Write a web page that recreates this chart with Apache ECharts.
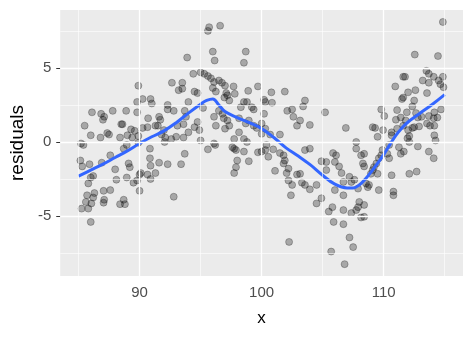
<!DOCTYPE html>
<html>
<head>
<meta charset="utf-8">
<script src="https://cdn.jsdelivr.net/npm/echarts@6/dist/echarts.min.js"></script>
<style>html,body{margin:0;padding:0;background:#fff}#c{width:474px;height:338px}</style>
</head>
<body>
<div id="c"></div>
<script>
// x and residual values of the scattered points
const pointX = [
93.9,94.4,89.9,92.65,93.5,93.2,93.5,94.5,90.25,89.8,90.9,91.0,94.0,86.1,86.85,87.8,88.9,89.8,87.1,87.0,
92.3,92.3,92.8,90.7,91.6,91.7,91.5,93.7,93.8,93.6,93.1,94.5,85.5,86.0,86.8,87.35,87.5,88.6,88.5,88.4,
89.3,89.0,89.6,89.4,90.25,90.65,89.9,91.3,92.0,91.8,92.1,92.6,93.0,93.6,85.2,85.4,92.05,94.0,
85.15,85.3,85.9,86.2,86.0,85.8,85.7,86.3,86.2,85.6,86.05,85.8,85.25,86.0,86.9,87.6,88.0,88.1,87.6,87.05,
87.1,87.05,88.4,88.7,88.8,88.7,88.95,89.1,89.2,88.95,89.5,89.8,90.1,90.0,90.0,90.85,90.85,90.9,91.6,92.3,
93.4,93.7,90.65,90.9,91.3,92.8,89.9,
95.7,95.6,96.6,96.0,96.15,98.7,98.55,95.0,95.3,95.6,95.85,96.1,96.0,96.5,96.75,97.0,96.25,94.75,97.1,96.95,
97.2,97.7,97.8,97.35,98.9,99.7,100.8,101.9,98.55,98.8,98.3,99.2,99.35,100.2,100.3,100.85,100.2,103.55,103.4,102.5,
102.1,102.6,103.15,103.95,102.9,105.2,95.2,96.5,96.8,96.1,96.9,97.2,96.25,97.0,97.35,94.75,94.9,95.0,96.1,98.15,
98.15,97.75,98.55,98.8,98.95,98.7,99.35,99.6,100.0,100.3,100.0,100.7,101.5,
95.6,96.2,97.6,97.9,97.75,98.55,98.0,97.9,97.75,98.95,99.7,100.0,100.4,100.3,100.55,100.95,101.5,101.8,101.9,101.8,
101.1,102.05,102.2,102.2,102.5,102.4,102.9,103.15,103.3,103.55,103.95,104.5,104.9,104.5,103.55,103.95,104.9,105.3,105.3,105.5,
102.25,
105.85,106.1,106.0,106.35,106.55,106.7,106.0,106.7,107.2,107.35,107.6,107.9,107.75,108.15,108.4,108.3,108.4,108.55,108.7,108.8,
108.95,109.1,109.2,109.4,109.5,109.6,109.8,109.9,110.3,110.45,110.45,111.25,111.4,111.65,112.1,112.8,113.7,114.1,114.25,110.65,
112.1,112.7,109.6,110.8,110.8,105.8,106.7,105.9,106.7,107.35,107.75,107.9,108.0,108.4,108.15,108.4,107.2,107.5,105.7,106.8,
114.85,112.55,114.45,113.5,113.7,114.1,114.5,114.85,114.65,114.9,111.6,111.75,110.95,112.0,112.6,113.2,113.7,113.55,111.5,111.6,
112.5,112.35,109.8,110.05,111.1,111.9,112.65,113.1,113.7,114.15,114.1,114.4,114.7,111.0,111.4,111.8,112.8,113.55,113.8,114.15,
112.35,112.9,106.9,109.1,109.3,109.5,109.95,110.65,111.1,111.6,112.0,112.5,112.1,111.95,114.15,107.75,110.65
];
const pointY = [
5.7,4.6,3.8,4.0,4.0,3.5,3.6,3.4,2.9,2.7,2.9,2.6,2.7,2.0,1.9,2.1,2.1,2.0,1.7,1.5,
2.5,2.2,2.1,1.6,1.7,1.5,1.1,2.1,1.7,1.2,1.1,1.0,1.1,0.45,0.3,0.6,0.5,1.2,1.2,0.3,
0.85,0.45,0.75,0.3,0.95,1.0,0.4,1.1,0.8,0.5,0.3,0.2,0.35,0.3,-0.1,-0.2,0.0,0.65,
-1.25,-1.65,-1.5,-2.3,-2.4,-2.8,-3.6,-3.45,-3.75,-4.05,-4.15,-4.5,-4.5,-5.4,-1.4,-0.9,-1.85,-2.55,-3.25,-3.3,
-3.9,-4.1,-4.2,-3.9,-4.2,-0.45,-0.2,-1.45,-1.7,-2.4,-2.75,-2.6,-2.1,-2.2,-3.3,-0.45,-1.1,-1.6,-1.4,-1.5,
-1.5,-0.8,-2.2,-2.5,-2.1,-3.7,-0.05,
7.75,7.5,7.85,6.1,5.5,6.1,5.35,4.7,4.6,4.45,4.3,4.05,3.65,4.15,4.0,3.8,3.4,3.3,3.3,3.0,
3.15,3.75,3.25,2.8,3.45,3.75,3.35,3.4,2.7,2.7,2.35,2.35,2.2,2.85,2.7,2.65,1.9,2.8,2.4,2.2,
2.1,1.7,1.45,1.15,1.1,2.0,2.3,2.1,1.9,1.7,1.6,1.45,1.1,0.9,1.1,1.35,0.8,0.1,-0.1,1.6,
0.65,0.2,0.2,0.0,1.45,1.25,1.1,0.95,1.25,0.9,0.55,0.5,0.5,
-0.5,-0.2,-0.35,-0.55,-0.45,-0.65,-1.25,-1.7,-2.1,-1.3,-0.7,-0.65,-0.2,-0.55,-1.0,-0.5,-0.75,-0.9,-1.25,-1.45,
-1.95,-2.1,-1.8,-2.6,-2.9,-3.6,-2.2,-2.15,-2.75,-2.9,-3.2,-2.9,-3.8,-4.15,-0.55,-0.45,-1.3,-1.35,-1.9,-4.7,
-6.75,
-0.75,-0.9,-1.35,-1.65,-2.1,-2.7,-3.25,-3.6,-2.35,-2.7,-2.55,-3.15,-0.45,-0.9,-0.8,-1.45,-1.65,-2.8,-3.05,-2.9,
-2.15,-1.9,-1.7,-1.45,-2.15,-1.1,-0.9,-0.55,-0.8,-1.1,-0.2,-0.35,-0.8,-0.65,0.0,-0.3,-0.65,-1.1,0.1,-2.25,
-2.15,-2.0,-3.25,-3.35,-3.6,-4.4,-4.6,-5.4,-5.55,-4.8,-4.6,-4.4,-4.05,-4.25,-5.1,-5.05,-6.45,-7.1,-7.4,-8.25,
8.1,5.9,5.8,4.8,4.6,4.4,4.15,4.4,3.9,3.7,4.4,4.4,3.75,3.35,3.5,4.15,4.0,3.3,2.9,3.0,
2.8,2.4,2.2,1.75,2.15,2.0,1.95,1.7,1.75,2.0,1.6,1.65,2.2,1.5,1.65,1.45,1.65,1.25,1.1,1.1,
0.95,1.05,0.95,1.0,0.95,0.35,0.8,0.65,0.9,1.1,0.8,1.0,0.4,0.25,0.45,0.0,0.45
];
// smoothed trend line
const smoothX = [85,86,87,88,89,90,91,92,93,94,95,95.5,96,96.5,97,98,99,100,101,102,103,104,105,106,107,107.5,108,108.5,109,109.5,110,110.5,111,111.5,112,113,114,115];
const smoothY = [-2.3,-1.9,-1.5,-1.05,-0.6,-0.1,0.35,0.75,1.3,1.95,2.55,2.8,2.9,2.5,2.05,1.65,1.3,0.9,0.3,-0.4,-0.95,-1.55,-2.25,-2.85,-3.1,-3.1,-2.9,-2.5,-2.0,-1.45,-0.85,-0.2,0.45,0.95,1.35,1.95,2.55,3.2];
// axis ticks and grid lines
const xTicks = [90,100,110];
const xMinor = [85,95,105,115];
const yTicks = [-5,0,5];
const yMinor = [-7.5,-2.5,2.5,7.5];

const pts = pointX.map((x,i)=>[x,pointY[i]]);
const sm = smoothX.map((x,i)=>[x,smoothY[i]]);
const major = {color:'#ffffff', width:1.3, type:'solid'};
const minor = {color:'#ffffff', width:0.6, type:'solid'};
const gridLines = [].concat(
  xMinor.map(v=>({xAxis:v, lineStyle:minor})),
  yMinor.map(v=>({yAxis:v, lineStyle:minor})),
  xTicks.map(v=>({xAxis:v, lineStyle:major})),
  yTicks.map(v=>({yAxis:v, lineStyle:major}))
);

const chart = echarts.init(document.getElementById('c'), null, {renderer:'canvas'});
chart.setOption({
  animation:false,
  grid:{left:60, right:11, top:10, bottom:62, show:true, backgroundColor:'#EBEBEB', borderWidth:0},
  xAxis:{
    type:'value', min:83.5, max:116.5,
    name:'x', nameLocation:'middle', nameGap:34,
    nameTextStyle:{color:'#000', fontSize:17, fontFamily:'Liberation Sans'},
    axisLine:{show:false},
    axisTick:{show:true, customValues:xTicks, length:4, lineStyle:{color:'#333333', width:1}},
    axisLabel:{customValues:xTicks, color:'#4D4D4D', fontSize:15, fontFamily:'Liberation Sans', margin:9},
    splitLine:{show:false}
  },
  yAxis:{
    type:'value', min:-9.05, max:8.91,
    name:'residuals', nameLocation:'middle', nameGap:30, nameRotate:90,
    nameTextStyle:{color:'#000', fontSize:19, fontFamily:'Liberation Sans'},
    axisLine:{show:false},
    axisTick:{show:true, customValues:yTicks, length:4, lineStyle:{color:'#333333', width:1}},
    axisLabel:{customValues:yTicks, color:'#4D4D4D', fontSize:15, fontFamily:'Liberation Sans', margin:9},
    splitLine:{show:false}
  },
  series:[
    {type:'scatter', data:[], z:1, silent:true,
     markLine:{silent:true, symbol:['none','none'], label:{show:false}, animation:false, data:gridLines}},
    {type:'scatter', data:pts, z:3, symbol:'circle', symbolSize:7, silent:true,
     itemStyle:{color:'rgba(0,0,0,0.36)', borderColor:'rgba(0,0,0,0.4)', borderWidth:0.8}},
    {type:'line', data:sm, z:4, smooth:0.4, symbol:'none', silent:true,
     lineStyle:{color:'#3366FF', width:3}}
  ]
});
</script>
</body>
</html>
